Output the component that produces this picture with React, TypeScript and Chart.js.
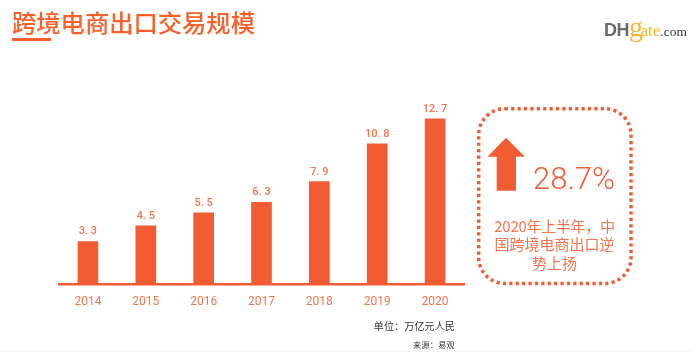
import React, { useEffect, useRef } from "react";
import { Chart, registerables } from "chart.js";

Chart.register(...registerables);

const years = ["2014", "2015", "2016", "2017", "2018", "2019", "2020"];
const values = [3.3, 4.5, 5.5, 6.3, 7.9, 10.8, 12.7];
const titleText = "跨境电商出口交易规模";
const unitText = "单位：万亿元人民";
const sourceText = "来源：易观";
const pctText = "28.7%";
const noteLines = ["2020年上半年，中", "国跨境电商出口逆", "势上扬"];

const ORANGE = "#F15C33";
const LABEL = "#F4744E";
const CJK = '"Noto Sans CJK SC", sans-serif';

const valueLabels = {
  id: "valueLabels",
  afterDatasetsDraw(chart: any) {
    const { ctx } = chart;
    const meta = chart.getDatasetMeta(0);
    ctx.save();
    ctx.font = "500 11px Roboto, sans-serif";
    ctx.fillStyle = LABEL;
    ctx.textAlign = "center";
    ctx.textBaseline = "alphabetic";
    meta.data.forEach((bar: any, i: number) => {
      ctx.fillText(values[i].toFixed(1).replace(".", ". "), bar.x, bar.y - 7);
    });
    ctx.restore();
  },
};

const abs = (s: React.CSSProperties): React.CSSProperties => ({ position: "absolute", whiteSpace: "nowrap", ...s });

export default function App() {
  const ref = useRef<HTMLCanvasElement>(null);
  useEffect(() => {
    document.body.style.margin = "0";
    const chart = new Chart(ref.current!, {
      type: "bar",
      data: {
        labels: years,
        datasets: [{ data: values, backgroundColor: ORANGE, barThickness: 20 }],
      },
      plugins: [valueLabels],
      options: {
        animation: false,
        responsive: false,
        layout: { padding: { left: 59, right: 228, top: 102, bottom: 0 } },
        plugins: { legend: { display: false }, tooltip: { enabled: false } },
        scales: {
          y: { display: false, min: 0, max: 14 },
          x: {
            afterFit: (s: any) => { s.height = 353 - 284.5; },
            grid: { display: false, drawTicks: false },
            border: { color: ORANGE, width: 2.5 },
            ticks: { color: LABEL, padding: 10, font: { family: "Roboto, sans-serif", size: 12 } },
          },
        },
      },
    });
    return () => chart.destroy();
  }, []);

  return (
    <div style={{ position: "relative", width: 692, height: 353, overflow: "hidden", background: "#fff" }}>
      <canvas ref={ref} width={692} height={353} style={{ position: "absolute", left: 0, top: 0 }} />
      <div style={abs({ left: 12, top: 4, fontFamily: CJK, fontSize: 24.3, lineHeight: "36px", fontWeight: 500, color: "#F9602A" })}>{titleText}</div>
      <div style={abs({ left: 12, top: 38, width: 39, height: 3, background: "#F9602A" })} />

      <div style={abs({ left: 604, top: 12, height: 30, lineHeight: "30px" })}>
        <span style={{ fontFamily: "Liberation Sans", fontWeight: 700, fontSize: 18, color: "#6A6A6A", letterSpacing: -0.5 }}>DH</span>
        <span style={{ fontFamily: "Liberation Serif", fontSize: 28, color: "#F7B52C", letterSpacing: -2.5 }}>g</span>
        <span style={{ fontFamily: "Liberation Serif", fontSize: 17, color: "#F7B52C" }}>ate</span>
        <span style={{ fontFamily: "Liberation Serif", fontSize: 13.5, color: "#333" }}>.com</span>
      </div>

      <svg style={{ position: "absolute", left: 470, top: 100 }} width={170} height={190}>
        <rect x={8.7} y={8.7} width={152.3} height={174.8} rx={26} ry={26} fill="none" stroke={ORANGE} strokeWidth={3.5} strokeDasharray="3.2 3.2" />
      </svg>
      <svg style={{ position: "absolute", left: 485, top: 135 }} width={44} height={58}>
        <polygon points="2.5,21.7 21,2.7 40,21.7 31,21.7 31,55.7 11.7,55.7 11.7,21.7" fill={ORANGE} />
      </svg>
      <div style={abs({ left: 533, top: 159, fontFamily: "Roboto, sans-serif", fontWeight: 300, fontSize: 31, lineHeight: "40px", color: ORANGE })}>{pctText}</div>
      <div style={abs({ left: 484, top: 217, width: 141, textAlign: "center", fontFamily: CJK, fontSize: 15, lineHeight: "18.3px", color: LABEL })}>
        {noteLines.map((l, i) => <div key={l} style={{ letterSpacing: i === 0 ? -0.3 : 0 }}>{l}</div>)}
      </div>

      <div style={abs({ right: 237, top: 318, fontFamily: CJK, fontSize: 10, lineHeight: "16px", letterSpacing: 0.15, color: "#333" })}>{unitText}</div>
      <div style={abs({ right: 237, top: 338, fontFamily: CJK, fontSize: 8, lineHeight: "14px", letterSpacing: 0.4, color: "#333" })}>{sourceText}</div>
      <div style={abs({ left: 0, top: 351, width: 692, height: 1, background: "#F3F3F3" })} />
    </div>
  );
}
